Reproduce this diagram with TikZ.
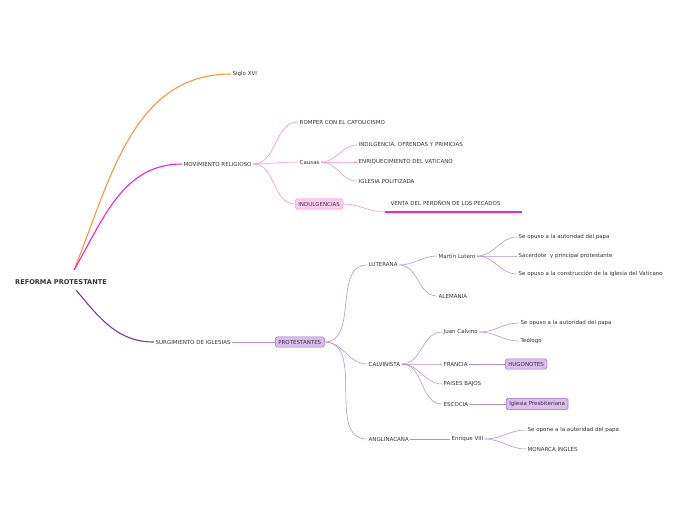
\documentclass[tikz,border=0pt]{standalone}
\usepackage{fontspec}
\setmainfont{DejaVu Sans}
\definecolor{cor}{HTML}{F79A3A}
\definecolor{cmg}{HTML}{FF1FC4}
\definecolor{cpk}{HTML}{FF8ADB}
\definecolor{cpkf}{HTML}{FFCCF0}
\definecolor{cdv}{HTML}{7A3E9A}
\definecolor{cpu}{HTML}{B48FD0}
\definecolor{cpuf}{HTML}{DCBDF0}
\definecolor{cpub}{HTML}{9E6CC4}
\definecolor{ctx}{HTML}{333333}
\begin{document}
\begin{tikzpicture}[x=1pt,y=-1pt,
  t/.style={anchor=west,inner sep=1.5pt,font=\fontsize{5.5}{6}\selectfont,text=ctx},
  pbox/.style={t,draw=cpk,fill=cpkf,rounded corners=1.5pt,inner sep=3pt,line width=0.6pt},
  ubox/.style={t,draw=cpub,fill=cpuf,rounded corners=1.5pt,inner sep=3pt,line width=0.6pt},
  orl/.style={draw=cor,line width=1.1pt},
  mgl/.style={draw=cmg,line width=1.1pt},
  pkl/.style={draw=cpk,line width=0.55pt},
  dvl/.style={draw=cdv,line width=1.1pt},
  pul/.style={draw=cpu,line width=0.55pt}]
\useasboundingbox (0,0) rectangle (696,520);
\node[anchor=west,inner sep=0pt,font=\fontsize{6.6}{7}\bfseries,text=ctx] (root) at (15,282) {REFORMA PROTESTANTE};
\coordinate (r1) at (74,270);
\coordinate (r2) at (76,290);
\node[t] (siglo) at (231,74) {Siglo XVI};
\node[t] (mov) at (182,164) {MOVIMIENTO RELIGIOSO};
\node[t] (rom) at (298,122) {ROMPER CON EL CATOLICISMO};
\node[t] (cau) at (298,162) {Causas};
\node[t] (c1) at (357,145) {INDILGENCIA, OFRENDAS Y PRIMICIAS};
\node[t] (c2) at (357,162) {ENRIQUECIMIENTO DEL VATICANO};
\node[t] (c3) at (357,181) {IGLESIA POLITIZADA};
\node[pbox] (ind) at (295,204) {INDULGENCIAS};
\node[t] (ven) at (389,203) {VENTA DEL PERDÑON DE LOS PECADOS};
\coordinate (v1) at (385,212); \coordinate (v2) at (522,212);
\node[t] (sur) at (154,342) {SURGIMIENTO DE IGLESIAS};
\node[ubox] (pro) at (275,342) {PROTESTANTES};
\node[t] (lut) at (367,265) {LUTERANA};
\node[t] (mar) at (437,256) {Martín Lutero};
\node[t] (m1) at (517,237) {Se opuso a la autoridad del papa};
\node[t] (m2) at (517,256) {Sacerdote \ y principal protestante};
\node[t] (m3) at (517,274) {Se opuso a la construcción de la iglesia del Vaticano};
\node[t] (ale) at (437,296) {ALEMANIA};
\node[t] (cal) at (367,364) {CALVINISTA};
\node[t] (jua) at (442,332) {Juan Calvino};
\node[t] (j1) at (519,323) {Se opuso a la autoridad del papa};
\node[t] (j2) at (519,341) {Teólogo};
\node[t] (fra) at (442,364) {FRANCIA};
\node[ubox] (hug) at (505,364) {HUGONOTES};
\node[t] (pai) at (442,384) {PAISES BAJOS};
\node[t] (esc) at (442,404) {ESCOCIA};
\node[ubox] (pre) at (506,404) {Iglesia Presbiteriana};
\node[t] (ang) at (367,439) {ANGLINACANA};
\node[t] (enr) at (450,439) {Enrique VIII};
\node[t] (e1) at (526,430) {Se opone a la autoridad del papa};
\node[t] (e2) at (526,449) {MONARCA INGLÉS};
% root branches
\draw[orl] (r1) to[out=68,in=180] (siglo.west);
\draw[mgl] (r1) to[out=60,in=180] (mov.west);
\draw[dvl] (r2) to[out=-50,in=180] (sur.west);
\foreach \c in {rom,cau,ind} \draw[pkl] (mov.east) to[out=0,in=180] (\c.west);
\foreach \c in {c1,c2,c3} \draw[pkl] (cau.east) to[out=0,in=180] (\c.west);
\draw[pkl] (ind.east) to[out=0,in=180] (v1);
\draw[mgl] (v1) -- (v2);
\draw[pul] (sur.east) -- (pro.west);
\foreach \c in {lut,cal,ang} \draw[pul] (pro.east) to[out=0,in=180] (\c.west);
\foreach \c in {mar,ale} \draw[pul] (lut.east) to[out=0,in=180] (\c.west);
\foreach \c in {m1,m2,m3} \draw[pul] (mar.east) to[out=0,in=180] (\c.west);
\foreach \c in {jua,fra,pai,esc} \draw[pul] (cal.east) to[out=0,in=180] (\c.west);
\foreach \c in {j1,j2} \draw[pul] (jua.east) to[out=0,in=180] (\c.west);
\draw[pul] (fra.east) -- (hug.west);
\draw[pul] (esc.east) -- (pre.west);
\draw[pul] (ang.east) -- (enr.west);
\foreach \c in {e1,e2} \draw[pul] (enr.east) to[out=0,in=180] (\c.west);
\end{tikzpicture}
\end{document}
